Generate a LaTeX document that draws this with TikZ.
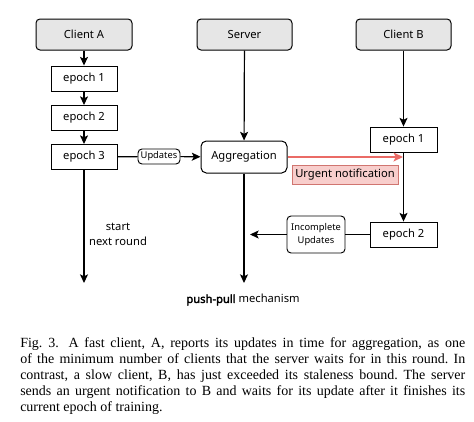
\documentclass[tikz,border=0pt]{standalone}
\usepackage{fontspec}
\setmainfont{Noto Sans}[AutoFakeBold=2.5]
\newfontfamily\captfont{Liberation Serif}
\usetikzlibrary{arrows.meta}
\definecolor{boxgray}{HTML}{E6E6E6}
\definecolor{redline}{HTML}{EA6B66}
\definecolor{redfill}{HTML}{F8CECC}
\definecolor{redborder}{HTML}{D07570}
\begin{document}
\begin{tikzpicture}[x=0.75pt,y=-0.75pt,
  font=\fontsize{8.4}{11.3}\selectfont,
  head/.style={draw,rounded corners=3pt,fill=boxgray,line width=0.75pt,minimum width=72pt,minimum height=23.25pt,inner sep=0pt},
  epochbox/.style={draw,line width=0.7pt,minimum width=49.5pt,minimum height=18.75pt,inner sep=0pt},
  smallbox/.style={draw,rounded corners=3pt,line width=0.7pt,inner sep=0pt,font=\fontsize{7}{9.5}\selectfont,align=center},
  conn/.style={line width=0.9pt},
  arr/.style={conn,-{Stealth[length=6.5pt,width=6pt,inset=1.5pt]}},
  redarr/.style={line width=1.5pt,redline,-{Stealth[length=7pt,width=6.5pt,inset=1.5pt]}}
]
\useasboundingbox (0,0) rectangle (474,421);
\fill[white] (0,0) rectangle (474,421);
% headers
\node[head] (ca) at (84,34.5) {Client A};
\node[head,minimum width=71.25pt] (srv) at (244.5,34.5) {Server};
\node[head,minimum width=71.25pt] (cb) at (403.5,34.5) {Client B};
% client A epochs
\node[epochbox] (a1) at (84,78.5) {epoch 1};
\node[epochbox] (a2) at (84,118) {epoch 2};
\node[epochbox] (a3) at (84,157) {epoch 3};
\node[smallbox,minimum width=31.5pt,minimum height=11.25pt] (upd) at (159,156.5) {Updates};
\node[draw,rounded corners=4pt,line width=0.75pt,minimum width=64.5pt,minimum height=24pt,inner sep=0pt] (agg) at (244,157) {Aggregation};
% client B epochs
\node[epochbox,minimum width=50.25pt] (b1) at (403.5,139.5) {epoch 1};
\node[epochbox,minimum width=50.25pt] (b2) at (403.5,234.5) {epoch 2};
\node[draw=redborder,fill=redfill,line width=0.6pt,minimum width=79.5pt,minimum height=14.25pt,inner sep=0pt] (urg) at (345,174.5) {Urgent notification};
\node[smallbox,minimum width=43.5pt,minimum height=27.75pt] (inc) at (316,234.5) {Incomplete\\Updates};
% texts
\node[align=center] (snr) at (118,234.5) {start\\next round};
\node (pp) at (243,300) {\textbf{push-pull} mechanism};
% free ends
\coordinate (endA) at (84,283);
\coordinate (endS) at (244,283);
\coordinate (tipB) at (403,157);
\coordinate (endI) at (250,234.5);
% connectors
\draw[arr] (ca) -- (a1);
\draw[arr] (a1) -- (a2);
\draw[arr] (a2) -- (a3);
\draw[arr] (a3.south) -- (endA);
\draw[conn] (a3) -- (upd);
\draw[arr] (upd) -- (agg);
\draw[arr] (srv) -- (agg);
\draw[arr] (agg.south) -- (endS);
\draw[arr] (cb.south -| b1.north) -- (b1.north);
\draw[arr] (b1) -- (b2);
\draw[redarr] (agg.east) -- (tipB);
\draw[conn] (b2) -- (inc);
\draw[arr] (inc.west) -- (endI);
% caption
\node[anchor=north west,inner sep=0pt,text width=333.75pt,align=justify,
  font=\captfont\fontsize{10.5}{12}\selectfont\frenchspacing] (cap) at (20,337)
  {Fig.~3.\hspace{0.7em}A fast client, A, reports its updates in time for aggregation, as one\linebreak
  of the minimum number of clients that the server waits for in this round. In\linebreak
  contrast, a slow client, B, has just exceeded its staleness bound. The server\linebreak
  sends an urgent notification to B and waits for its update after it finishes its\linebreak
  current epoch of training.};
\end{tikzpicture}
\end{document}
